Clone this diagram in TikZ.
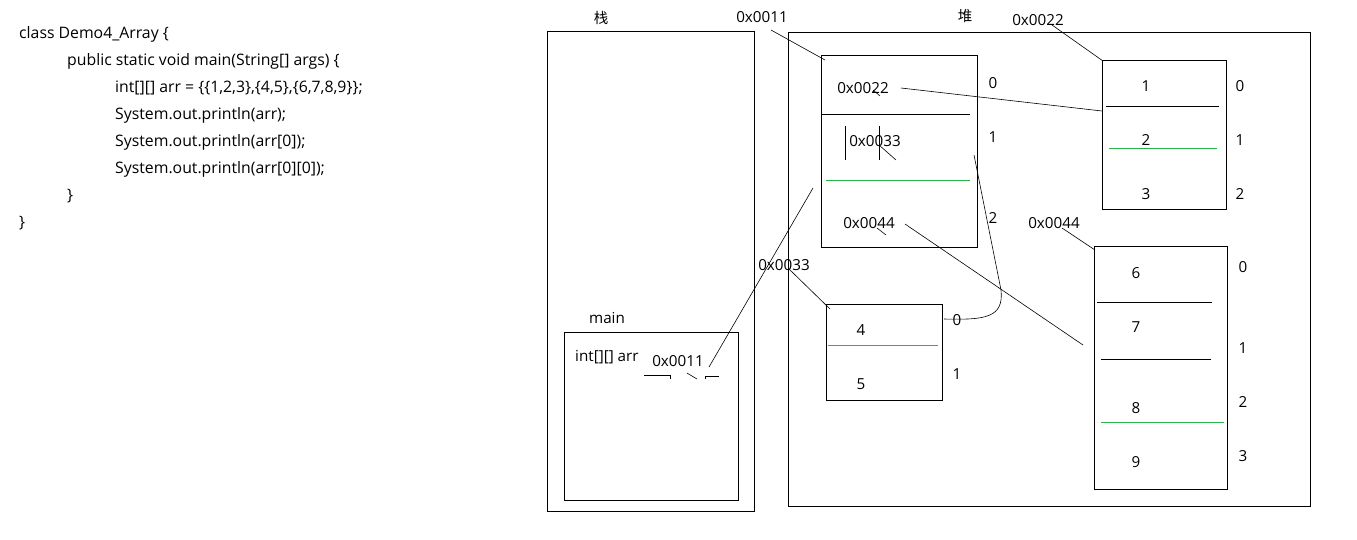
\documentclass[tikz,border=0pt]{standalone}
\usepackage{fontspec}
\setmainfont{Open Sans}
\newfontfamily\cjkf{Noto Sans CJK SC}
\begin{document}
\begin{tikzpicture}[x=1pt,y=-1pt,
  txt/.style={inner sep=0pt,font=\fontsize{15.8}{18}\selectfont,anchor=west},
  lbl/.style={inner sep=0pt,font=\fontsize{15.2}{17}\selectfont},
  frame/.style={draw,line width=0.9pt,anchor=north west,inner sep=0pt},
  wire/.style={line width=0.6pt},
  gdiv/.style={line width=0.8pt,draw={rgb,255:red,40;green,180;blue,70}},
  bdiv/.style={line width=0.8pt}]
\useasboundingbox (0,0) rectangle (1357,539);
% code
\node[txt] (c1) at (19,34) {class Demo4\_Array \{};
\node[txt] (c2) at (67,61) {public static void main(String[] args) \{};
\node[txt] (c3) at (115,88) {int[][] arr = \{\{1,2,3\},\{4,5\},\{6,7,8,9\}\};};
\node[txt] (c4) at (115,115) {System.out.println(arr);};
\node[txt] (c5) at (115,142) {System.out.println(arr[0]);};
\node[txt] (c6) at (115,169) {System.out.println(arr[0][0]);};
\node[txt] (c7) at (67,196) {\}};
\node[txt] (c8) at (19,223) {\}};
% stack
\node[lbl,font=\cjkf\fontsize{14.5}{16}\selectfont] (zhan) at (601,18) {栈};
\node[frame,minimum width=207pt,minimum height=480pt] (stack) at (547,31) {};
\node[lbl] (mainlbl) at (607,318) {main};
\node[frame,minimum width=174pt,minimum height=168pt] (mainf) at (564,332) {};
\node[lbl,anchor=west] (arrv) at (575,357) {int[][] arr};
\node[lbl] (p11) at (678,361) {0x0011};
\draw[wire] (644,375) -- (670,375) -- (670,379);
\draw[wire] (687,373) -- (697,379);
\draw[wire] (705,379) -- (705,376) -- (719,376);
% heap
\node[lbl,font=\cjkf\fontsize{14.5}{16}\selectfont] (dui) at (965,16) {堆};
\node[frame,minimum width=522pt,minimum height=474pt] (heap) at (788,32) {};
% box A
\node[frame,minimum width=156pt,minimum height=192pt] (boxA) at (821,55) {};
\draw[bdiv] (821,114) -- (970,114);
\draw[gdiv] (826,180) -- (970,180);
\node[lbl] (a0) at (863,88) {0x0022};
\node[lbl] (a1) at (875,141) {0x0033};
\node[lbl] (a2) at (869,223) {0x0044};
\draw[wire] (873,90) -- (880,96);
\draw[wire] (845,126) -- (845,160);
\draw[wire] (879,126) -- (879,160);
\draw[wire] (879,145) -- (896,160);
\draw[wire] (877,228) -- (886,235);
\node[lbl] (ai0) at (993,83) {0};
\node[lbl] (ai1) at (993,137) {1};
\node[lbl] (ai2) at (993,218) {2};
\node[lbl] (l11) at (762,17) {0x0011};
% box B
\node[frame,minimum width=124pt,minimum height=149pt] (boxB) at (1102,60) {};
\draw[bdiv] (1106,106) -- (1219,106);
\draw[gdiv] (1109,148) -- (1217,148);
\node[lbl] (b0) at (1146,86) {1};
\node[lbl] (b1) at (1146,140) {2};
\node[lbl] (b2) at (1146,194) {3};
\node[lbl] (bi0) at (1240,86) {0};
\node[lbl] (bi1) at (1240,140) {1};
\node[lbl] (bi2) at (1240,194) {2};
\node[lbl] (l22) at (1038,20) {0x0022};
% box C
\node[frame,minimum width=133pt,minimum height=243pt] (boxC) at (1094,246) {};
\draw[bdiv] (1097,302) -- (1212,302);
\draw[bdiv] (1101,359) -- (1211,359);
\draw[gdiv] (1101,422) -- (1224,422);
\node[lbl] (cv0) at (1136,273) {6};
\node[lbl] (cv1) at (1136,327) {7};
\node[lbl] (cv2) at (1136,408) {8};
\node[lbl] (cv3) at (1136,462) {9};
\node[lbl] (ci0) at (1243,267) {0};
\node[lbl] (ci1) at (1243,348) {1};
\node[lbl] (ci2) at (1243,402) {2};
\node[lbl] (ci3) at (1243,456) {3};
\node[lbl] (l44) at (1054,223) {0x0044};
% box D
\node[frame,minimum width=116pt,minimum height=96pt] (boxD) at (826,304) {};
\draw[gdiv] (828,345) -- (938,345);
\node[lbl] (d0) at (861,330) {4};
\node[lbl] (d1) at (861,384) {5};
\node[lbl] (di0) at (957,320) {0};
\node[lbl] (di1) at (957,374) {1};
\node[lbl] (l33) at (784,265) {0x0033};
% connector endpoints
\coordinate (s11) at (771,30);
\coordinate (e11) at (825,60);
\coordinate (s22) at (1052,25);
\coordinate (e22) at (1103,61);
\coordinate (s44) at (1062,228);
\coordinate (e44) at (1095,250);
\coordinate (s33) at (789,269);
\coordinate (e33) at (830,309);
\coordinate (m1) at (709,367);
\coordinate (m2) at (813,188);
\coordinate (r0s) at (901,88);
\coordinate (r0e) at (1102,111);
\coordinate (r1s) at (974,155);
\coordinate (r1m) at (1001,290);
\coordinate (r1e) at (944,319);
\coordinate (r2s) at (905,224);
\coordinate (r2e) at (1083,345);
\draw[wire] (s11) -- (e11);
\draw[wire] (s22) -- (e22);
\draw[wire] (s44) -- (e44);
\draw[wire] (s33) -- (e33);
\draw[wire] (m1) -- (m2);
\draw[wire] (r0s) -- (r0e);
\draw[wire] (r2s) -- (r2e);
\draw[wire] (r1s) -- (r1m) .. controls (1004,318) and (985,320) .. (r1e);
\end{tikzpicture}
\end{document}
